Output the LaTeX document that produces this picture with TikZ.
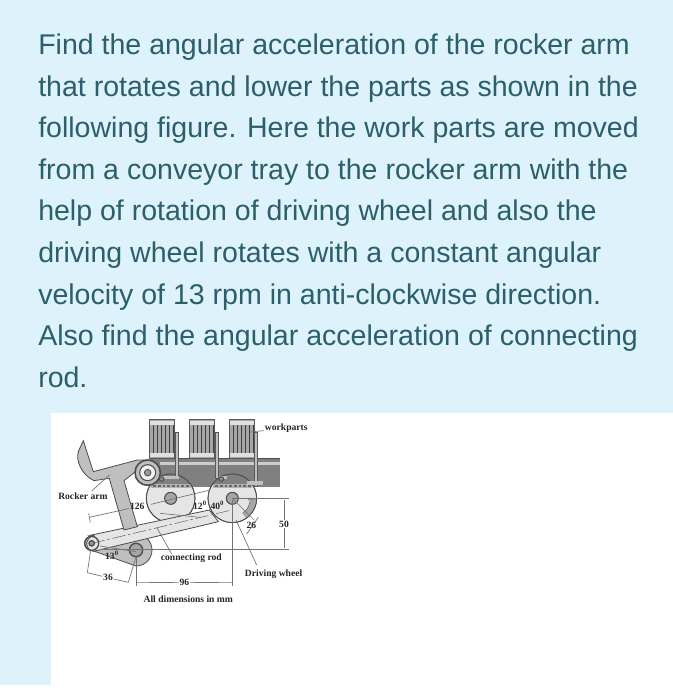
\documentclass[tikz,border=0pt]{standalone}
\usepackage{fontspec}
\setmainfont{Liberation Sans}
\newfontfamily\labelfont{Liberation Serif}
\definecolor{panelblue}{HTML}{DDF2FB}
\definecolor{bodyteal}{HTML}{2B5F6B}
\tikzset{
  bodyline/.style={anchor=base west,inner sep=0pt,text=bodyteal,font=\fontsize{21.4}{24}\selectfont},
  dimlabel/.style={inner sep=0.5pt,text=black!85,font=\labelfont\bfseries\fontsize{7.2}{9}\selectfont},
  dimline/.style={draw=black!55,line width=0.5pt},
  metal/.style={draw=black!70,line width=0.6pt,fill=black!25},
  wheel/.style={draw=black!70,line width=0.6pt,fill=black!10},
}
\begin{document}
\begin{tikzpicture}[x=0.75pt,y=-0.75pt]
  \useasboundingbox (0,0) rectangle (673,700);
  \fill[panelblue] (0,0) rectangle (673,685);
  \fill[white] (51,413) rectangle (673,685);
  % question text
  \node[bodyline] (l1) at (38,54) {Find the angular acceleration of the rocker arm};
  \node[bodyline] (l2) at (38,96) {that rotates and lower the parts as shown in the};
  \node[bodyline] (l3) at (38,137) {following figure. Here the work parts are moved};
  \node[bodyline] (l4) at (38,179) {from a conveyor tray to the rocker arm with the};
  \node[bodyline] (l5) at (38,220) {help of rotation of driving wheel and also the};
  \node[bodyline] (l6) at (38,262) {driving wheel rotates with a constant angular};
  \node[bodyline] (l7) at (38,304) {velocity of 13 rpm in anti-clockwise direction.};
  \node[bodyline] (l8) at (38,345) {Also find the angular acceleration of connecting};
  \node[bodyline] (l9) at (38,387) {rod.};
  \begin{scope}[shift={(50,410)},x=0.25pt,y=-0.25pt]
    % conveyor
    \fill[black!50] (300,145) rectangle (690,232);
    \fill[black!20] (330,156) rectangle (690,165);
    \draw[black!70] (300,145) -- (690,145);
    % workparts
    \foreach \px in {298,418,538} {
      \fill[black!35] (\px,28) rectangle ++(76,117);
      \fill[black!12] (\px,32) rectangle ++(76,13);
      \fill[black!12] (\px,130) rectangle ++(76,12);
      \foreach \rib in {12,24,...,72}
        \draw[black!75,line width=0.5pt] (\px+\rib,45) -- (\px+\rib,130);
      \draw[black!65,line width=0.4pt] (\px,28) rectangle ++(76,117);
    }
    % wheels
    \node[circle,wheel,minimum size=36.5pt,inner sep=0pt] (wheelL) at (362,265) {};
    \node[circle,wheel,minimum size=36.5pt,inner sep=0pt] (wheelR) at (547,265) {};
    \foreach \cx in {362,547} {
      \begin{scope}
        \clip (250,150) rectangle (660,222);
        \fill[black!50] (\cx,265) circle[radius=73];
      \end{scope}
    }
    \fill[black!35] (602,265) -- (620,265) arc (0:55:73) -- (578,310) arc (55:0:55) -- cycle;
    \fill[black!30] (303,222) rectangle (422,234);
    \fill[black!30] (488,222) rectangle (606,234);
    \foreach \dx in {310,324,...,415}
      \fill[black!60] (\dx,225) rectangle ++(8,6);
    \foreach \dx in {496,510,...,600}
      \fill[black!60] (\dx,225) rectangle ++(8,6);
    \draw[black!70,line width=0.6pt] (362,265) circle[radius=73];
    \draw[black!70,line width=0.6pt] (547,265) circle[radius=73];
    % fingers on the tray
    \foreach \fx/\fy in {375/205,495/205,612/230} {
      \fill[black!25] (\fx,68) rectangle (\fx+11,\fy);
      \draw[black!65,line width=0.4pt] (\fx,68) rectangle (\fx+11,\fy);
    }
    \fill[black!25] (325,197) rectangle (386,208);
    \fill[black!25] (506,197) rectangle (530,208);
    \fill[black!25] (590,212) rectangle (640,224);
    % lower crank and connecting rod
    \filldraw[metal] (125,379) -- (258,372) arc (-90:90:48) -- (125,421) arc (90:270:21) -- cycle;
    \filldraw[metal,fill=black!10] (120,376) -- (478,300) -- (505,335) -- (130,424) arc (100:260:24) -- cycle;
    \draw[black!60,dash pattern=on 10pt off 2pt on 2pt off 2pt,line width=0.4pt] (125,400) -- (545,300);
    \draw[black!70,line width=1pt,fill=black!40] (125,400) circle[radius=8];
    \draw[black!70,line width=1pt] (125,400) circle[radius=21];
    % rocker arm
    \filldraw[metal] (100,92) -- (112,130) -- (130,185) -- (262,150) -- (300,150) -- (222,212) -- (262,350) -- (222,360) -- (178,205) -- (132,212) .. controls (95,195) and (75,150) .. (86,122) -- cycle;
    % small roller
    \node[circle,draw=black!70,line width=1.2pt,fill=black!25,minimum size=19pt,inner sep=0pt] (roller) at (293,188) {};
    \node[circle,draw=black!70,line width=0.8pt,fill=black!5,minimum size=12pt,inner sep=0pt] (rollerIn) at (293,188) {};
    \node[circle,draw=black!70,line width=0.6pt,fill=black!40,minimum size=5pt,inner sep=0pt] (rollerHub) at (293,188) {};
    % hubs
    \node[circle,draw=black!70,line width=0.8pt,fill=black!35,minimum size=9pt,inner sep=0pt] (hubL) at (362,265) {};
    \node[circle,draw=black!70,line width=0.8pt,fill=black!35,minimum size=9pt,inner sep=0pt] (hubR) at (547,265) {};
    \node[circle,draw=black!70,line width=1pt,fill=black!35,minimum size=10pt,inner sep=0pt] (hubC) at (258,420) {};
    \node[circle,draw=black!70,line width=0.7pt,fill=black!45,minimum size=3.5pt,inner sep=0pt] (pinA) at (335,207) {};
    \node[circle,draw=black!70,line width=0.7pt,fill=black!45,minimum size=3.5pt,inner sep=0pt] (pinB) at (514,207) {};
    % leaders
    \coordinate (workEnd) at (600,66);
    \coordinate (rockerEnd) at (178,195);
    \coordinate (rodEnd) at (320,352);
    \coordinate (driveEnd) at (558,330);
    \coordinate (rockerStart) at (125,243);
    \coordinate (rodStart) at (365,432);
    \coordinate (driveStart) at (620,465);
    \draw[dimline] (rockerStart) -- (rockerEnd);
    \draw[dimline] (rodStart) -- (rodEnd);
    \draw[dimline] (driveStart) -- (driveEnd);
    % dimension lines
    \draw[dimline] (547,265) -- (716,265);
    \draw[dimline] (150,417) -- (716,417);
    \draw[dimline] (116,310) -- (121,338);
    \draw[dimline] (303,283) -- (480,240);
    \draw[dimline] (122,420) -- (112,488);
    \draw[dimline] (258,440) -- (235,517);
    \draw[dimline] (258,440) -- (258,528);
    \draw[dimline] (546,270) -- (546,528);
    \draw[dimline] (150,408) -- (258,425);
    \draw[dimline] (547,265) -- (612,330);
    \draw[dimline] (590,372) -- (625,322);
    \draw[dimline] (330,310) -- (450,322);
    \draw[dimline,->] (578,310) arc (55:-5:52);
    % labels
    \node[dimlabel,anchor=west] (lblWork) at (642,55) {workparts};
    \node[dimlabel,anchor=west] (lblRocker) at (22,260) {Rocker arm};
    \node[dimlabel] (lbl126) at (262,290) {126};
    \node[dimlabel] (lbl12) at (450,286) {12\textsuperscript{0}};
    \node[dimlabel] (lbl40) at (502,286) {40\textsuperscript{0}};
    \node[dimlabel] (lbl26) at (604,347) {26};
    \node[dimlabel] (lbl50) at (702,342) {50};
    \node[dimlabel] (lbl13) at (186,436) {13\textsuperscript{0}};
    \node[dimlabel,anchor=west] (lblRod) at (330,444) {connecting rod};
    \node[dimlabel,anchor=west] (lblDrive) at (582,492) {Driving wheel};
    \node[dimlabel] (lbl36) at (174,503) {36};
    \node[dimlabel] (lbl96) at (403,517) {96};
    \node[dimlabel,anchor=west] (lblAll) at (278,568) {All dimensions in mm};
    % connectors that stop at labels
    \coordinate (d50a) at (702,270);
    \coordinate (d50b) at (702,415);
    \coordinate (a126) at (118,322);
    \coordinate (a36) at (112,488);
    \coordinate (b36) at (235,517);
    \coordinate (a96) at (258,518);
    \coordinate (b96) at (546,518);
    \draw[dimline] (lblWork) -- (workEnd);
    \draw[dimline] (d50a) -- (lbl50);
    \draw[dimline] (lbl50) -- (d50b);
    \draw[dimline] (a126) -- (lbl126);
    \draw[dimline] (a36) -- (lbl36);
    \draw[dimline] (lbl36) -- (b36);
    \draw[dimline] (a96) -- (lbl96);
    \draw[dimline] (lbl96) -- (b96);
  \end{scope}
\end{tikzpicture}
\end{document}
